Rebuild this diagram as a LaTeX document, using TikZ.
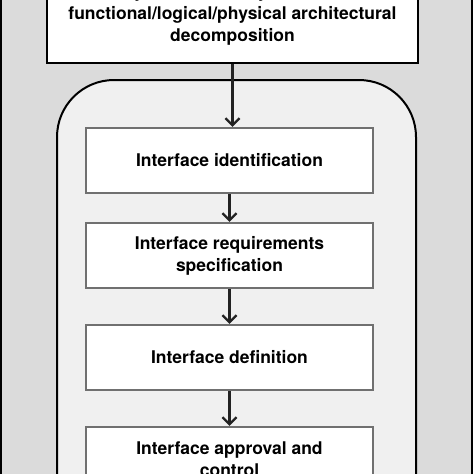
\documentclass[tikz,border=0pt]{standalone}
\usepackage{fontspec}
\setmainfont{TeX Gyre Heros}
\usetikzlibrary{arrows.meta}
\definecolor{framegray}{HTML}{DBDBDB}
\definecolor{panelgray}{HTML}{F0F0F0}
\definecolor{boxgray}{HTML}{707070}
\definecolor{arrowdark}{HTML}{222222}
\begin{document}
\begin{tikzpicture}[x=1pt, y=-1pt,
  stagebox/.style={draw=boxgray, line width=2.2pt, fill=white, minimum width=287pt,
    minimum height=65pt, inner sep=0pt, align=center,
    font=\bfseries\fontsize{17.5}{22}\selectfont},
  flow/.style={-{Straight Barb[length=7pt,width=14pt]}, line width=2.4pt, draw=arrowdark}]
  \useasboundingbox (0,0) rectangle (474,474);
  \clip (0,0) rectangle (474,474);
  % background and panel
  \draw[fill=framegray, line width=1.5pt] (1,-20) rectangle (472,500);
  \draw[fill=panelgray, line width=2pt, rounded corners=57pt] (57,80) rectangle (416,560);
  % boxes
  \node[stagebox, draw=black, line width=2pt, minimum width=371pt, minimum height=96pt] (arch) at (232.5,15)
    {System hierarchy from the\\ functional/logical/physical architectural\\ decomposition};
  \node[stagebox] (ident) at (229.5,160.5) {Interface identification};
  \node[stagebox] (reqspec) at (229.5,255.5) {Interface requirements\\ specification};
  \node[stagebox] (defn) at (229.5,357.5) {Interface definition};
  \node[stagebox] (approval) at (229.5,459.5) {Interface approval and\\ control};
  % arrows
  \draw[flow] (arch.south) -- (arch.south |- ident.north);
  \draw[flow] (ident.south) -- (reqspec.north);
  \draw[flow] (reqspec.south) -- (defn.north);
  \draw[flow] (defn.south) -- (approval.north);
\end{tikzpicture}
\end{document}
